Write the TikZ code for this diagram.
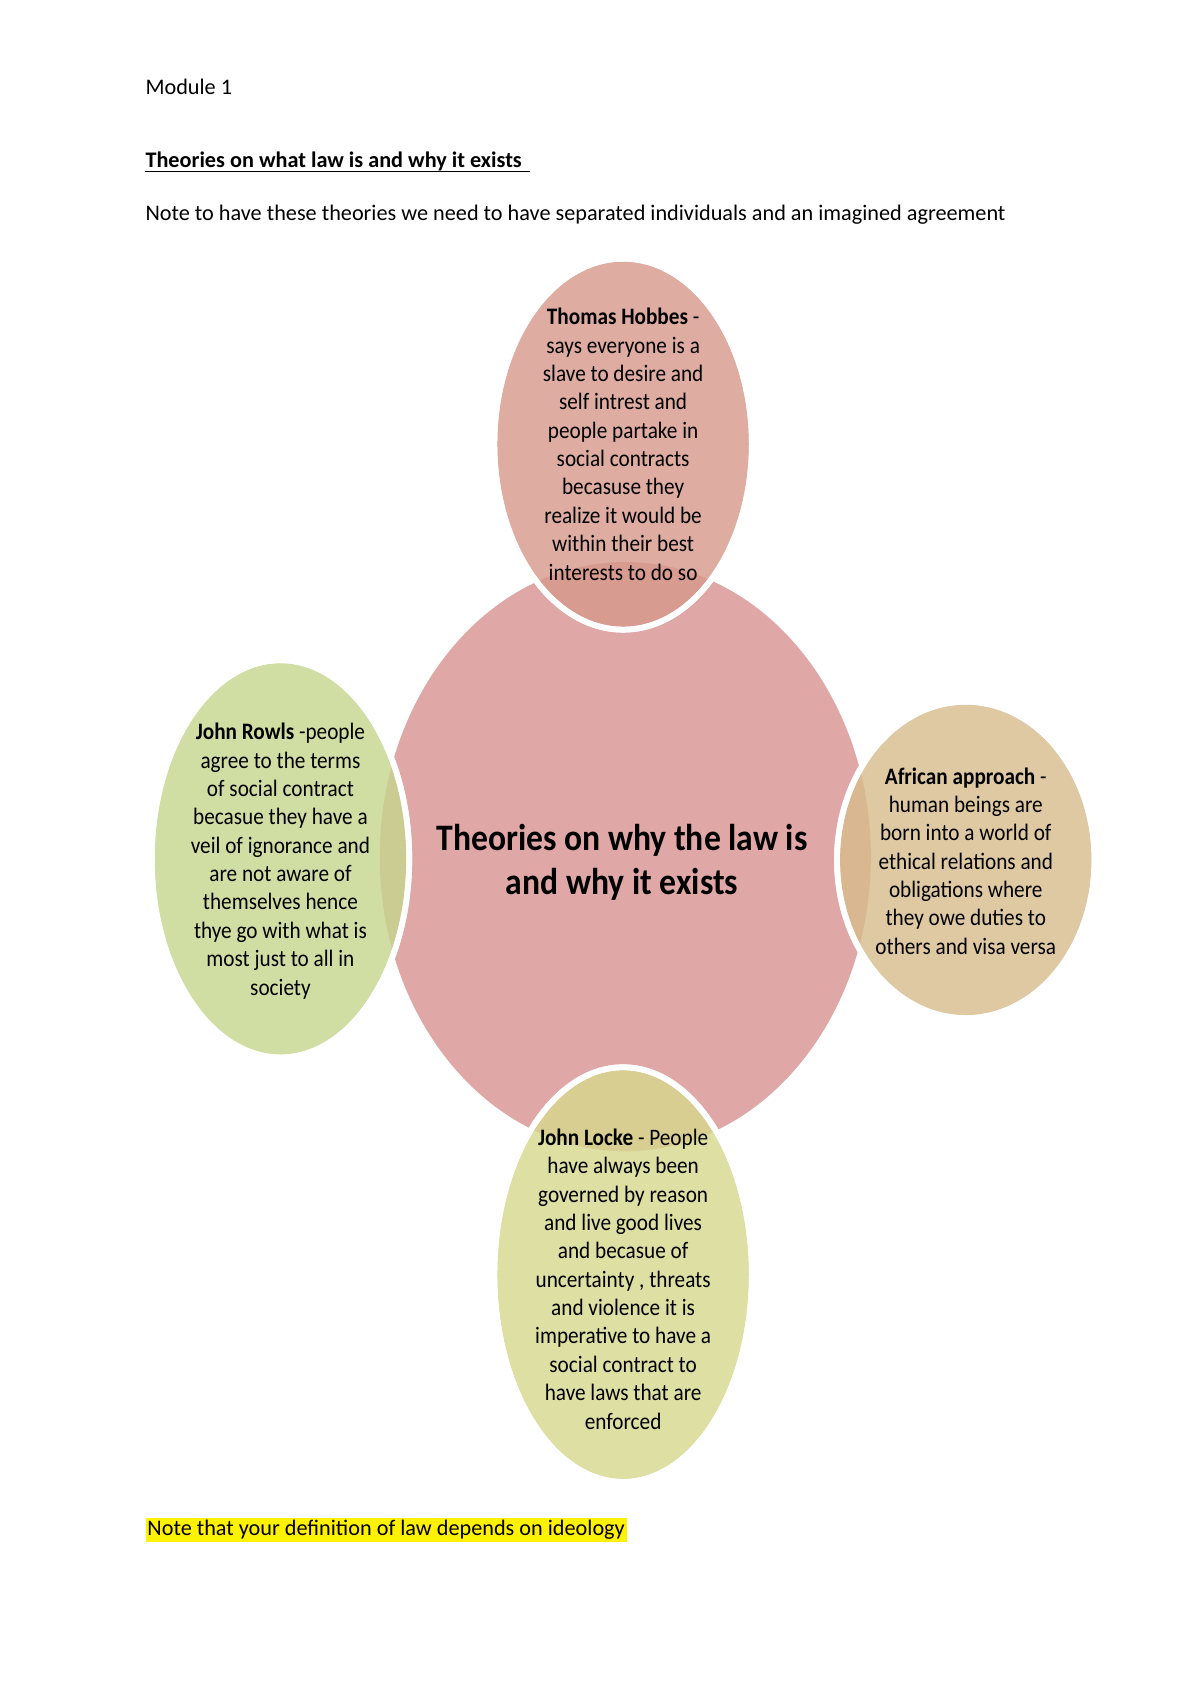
\documentclass[tikz,border=0pt]{standalone}
\usepackage{fontspec}
\setmainfont{Carlito}
\newfontfamily\cond[FakeStretch=0.9]{Carlito}
\begin{document}
\begin{tikzpicture}[x=0.02cm,y=-0.02cm,
  sat/.style={draw=white,line width=3pt,fill opacity=0.8},
  txt/.style={align=center,font=\cond\fontsize{12.3}{14.8}\selectfont},
  plain/.style={anchor=west,inner sep=0pt,font=\fontsize{11.6}{14}\selectfont}]
\useasboundingbox (0,0) rectangle (1100,1556);
\fill[white] (0,0) rectangle (1100,1556);
\node[plain] (mod) at (133,80) {Module 1};
\node[plain,font=\fontsize{11.6}{14}\selectfont\bfseries] (ttl) at (133,148) {Theories on what law is and why it exists};
\draw[line width=0.6pt] ([yshift=-2pt]ttl.base west) -- ([yshift=-2pt,xshift=4pt]ttl.base east);
\node[plain] (note) at (133,197) {Note to have these theories we need to have separated individuals and an imagined agreement};
\node[plain,fill=yellow,inner sep=1pt] (hl) at (133,1402) {Note that your definition of law depends on ideology};
\fill[fill={rgb,255:red,224;green,167;blue,167}] (573,785) ellipse [x radius=225,y radius=270];
\node[align=center,font=\cond\fontsize{19.5}{22.8}\selectfont\bfseries] (c) at (570,790) {Theories on why the law is\\and why it exists};
\fill[sat,fill={rgb,255:red,214;green,152;blue,138}] (571,407) ellipse [x radius=118,y radius=170];
\fill[sat,fill={rgb,255:red,198;green,214;blue,140}] (257,787) ellipse [x radius=118,y radius=182];
\fill[sat,fill={rgb,255:red,214;green,188;blue,140}] (885,788) ellipse [x radius=118,y radius=145];
\fill[sat,fill={rgb,255:red,214;green,216;blue,140}] (571,1168) ellipse [x radius=118,y radius=190];
\draw[white,line width=3pt] (571,407) ellipse [x radius=118,y radius=170];
\draw[white,line width=3pt] (257,787) ellipse [x radius=118,y radius=182];
\draw[white,line width=3pt] (885,788) ellipse [x radius=118,y radius=145];
\draw[white,line width=3pt] (571,1168) ellipse [x radius=118,y radius=190];
\node[txt] (t) at (571,407) {\textbf{Thomas Hobbes} -\\says everyone is a\\slave to desire and\\self intrest and\\people partake in\\social contracts\\becasuse they\\realize it would be\\within their best\\interests to do so};
\node[txt] (l) at (257,789) {\textbf{John Rowls} -people\\agree to the terms\\of social contract\\becasue they have a\\veil of ignorance and\\are not aware of\\themselves hence\\thye go with what is\\most just to all in\\society};
\node[txt] (r) at (885,789) {\textbf{African approach} -\\human beings are\\born into a world of\\ethical relations and\\obligations where\\they owe duties to\\others and visa versa};
\node[txt] (b) at (571,1172) {\textbf{John Locke} - People\\have always been\\governed by reason\\and live good lives\\and becasue of\\uncertainty , threats\\and violence it is\\imperative to have a\\social contract to\\have laws that are\\enforced};
\end{tikzpicture}
\end{document}
